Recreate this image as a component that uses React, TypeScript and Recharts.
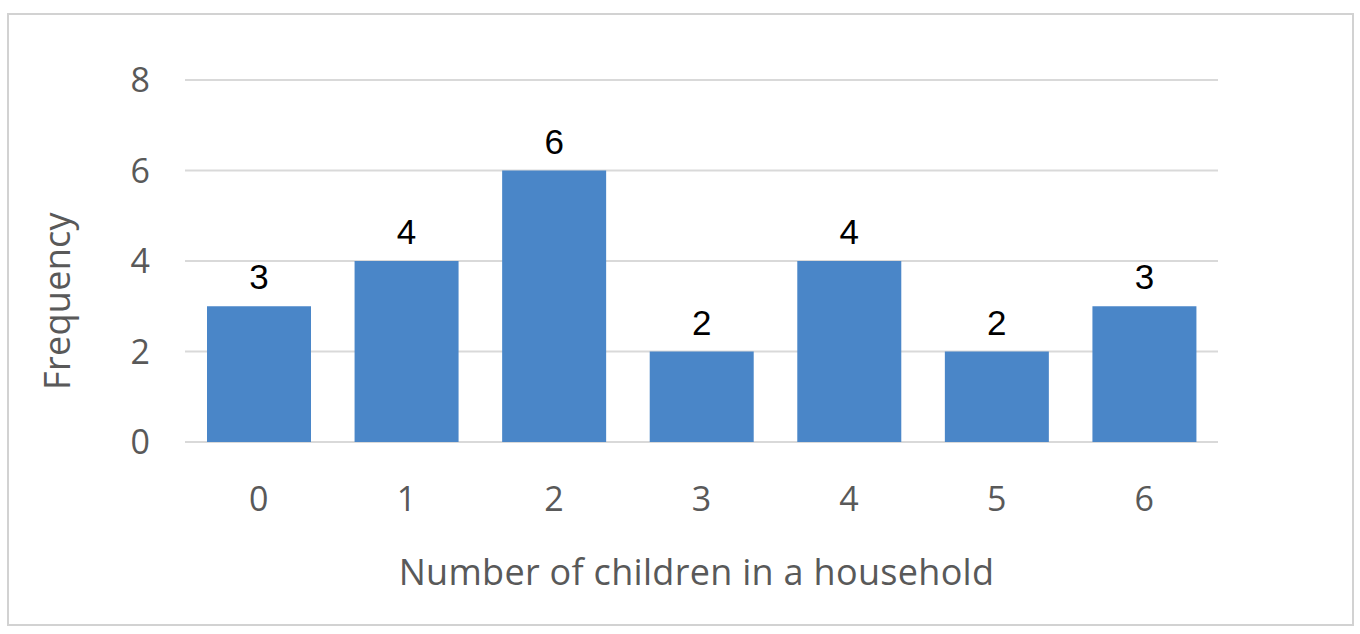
import { Bar, BarChart, CartesianGrid, Label, LabelList, XAxis, YAxis } from "recharts";

const categories = ["0", "1", "2", "3", "4", "5", "6"];
const frequencies = [3, 4, 6, 2, 4, 2, 3];
const yTicks = [0, 2, 4, 6, 8];

const tickFont = { fontFamily: "'Open Sans', sans-serif", fontSize: 34, fill: "#595959" };
const titleFont = { fontFamily: "'Open Sans', sans-serif", fontSize: 36, fill: "#595959", letterSpacing: 0.3 };

export default function App() {
  const data = categories.map((c, i) => ({ children: c, frequency: frequencies[i] }));

  return (
    <div style={{ position: "absolute", left: 0, top: 0, width: 1360, height: 634, background: "#fff" }}>
      <div
        style={{
          position: "absolute",
          left: 7,
          top: 13,
          width: 1343,
          height: 609,
          border: "2px solid #d2d2d2",
        }}
      />
      <div style={{ position: "absolute", left: 0, top: 0 }}>
        <BarChart
          width={1360}
          height={634}
          data={data}
          margin={{ top: 80, right: 142, bottom: 42, left: 45 }}
        >
          <CartesianGrid vertical={false} stroke="#d9d9d9" strokeWidth={2} />
          <XAxis
            dataKey="children"
            height={150}
            axisLine={false}
            tickLine={false}
            tickSize={0}
            tickMargin={45}
            tick={tickFont}
          >
            <Label
              value="Number of children in a household"
              position="insideBottom"
              offset={7}
              dx={-5}
              style={titleFont}
            />
          </XAxis>
          <YAxis
            width={140}
            domain={[0, 8]}
            ticks={yTicks}
            axisLine={false}
            tickLine={false}
            tickSize={0}
            tickMargin={35}
            tick={tickFont}
          >
            <Label value="Frequency" position="center" angle={-90} dx={-58} dy={40} style={titleFont} />
          </YAxis>
          <Bar dataKey="frequency" fill="#4a86c8" barSize={104} isAnimationActive={false}>
            <LabelList
              dataKey="frequency"
              position="top"
              offset={17}
              style={{ fontFamily: "'Liberation Sans', Arial, sans-serif", fontSize: 35, fill: "#000" }}
            />
          </Bar>
        </BarChart>
      </div>
    </div>
  );
}
